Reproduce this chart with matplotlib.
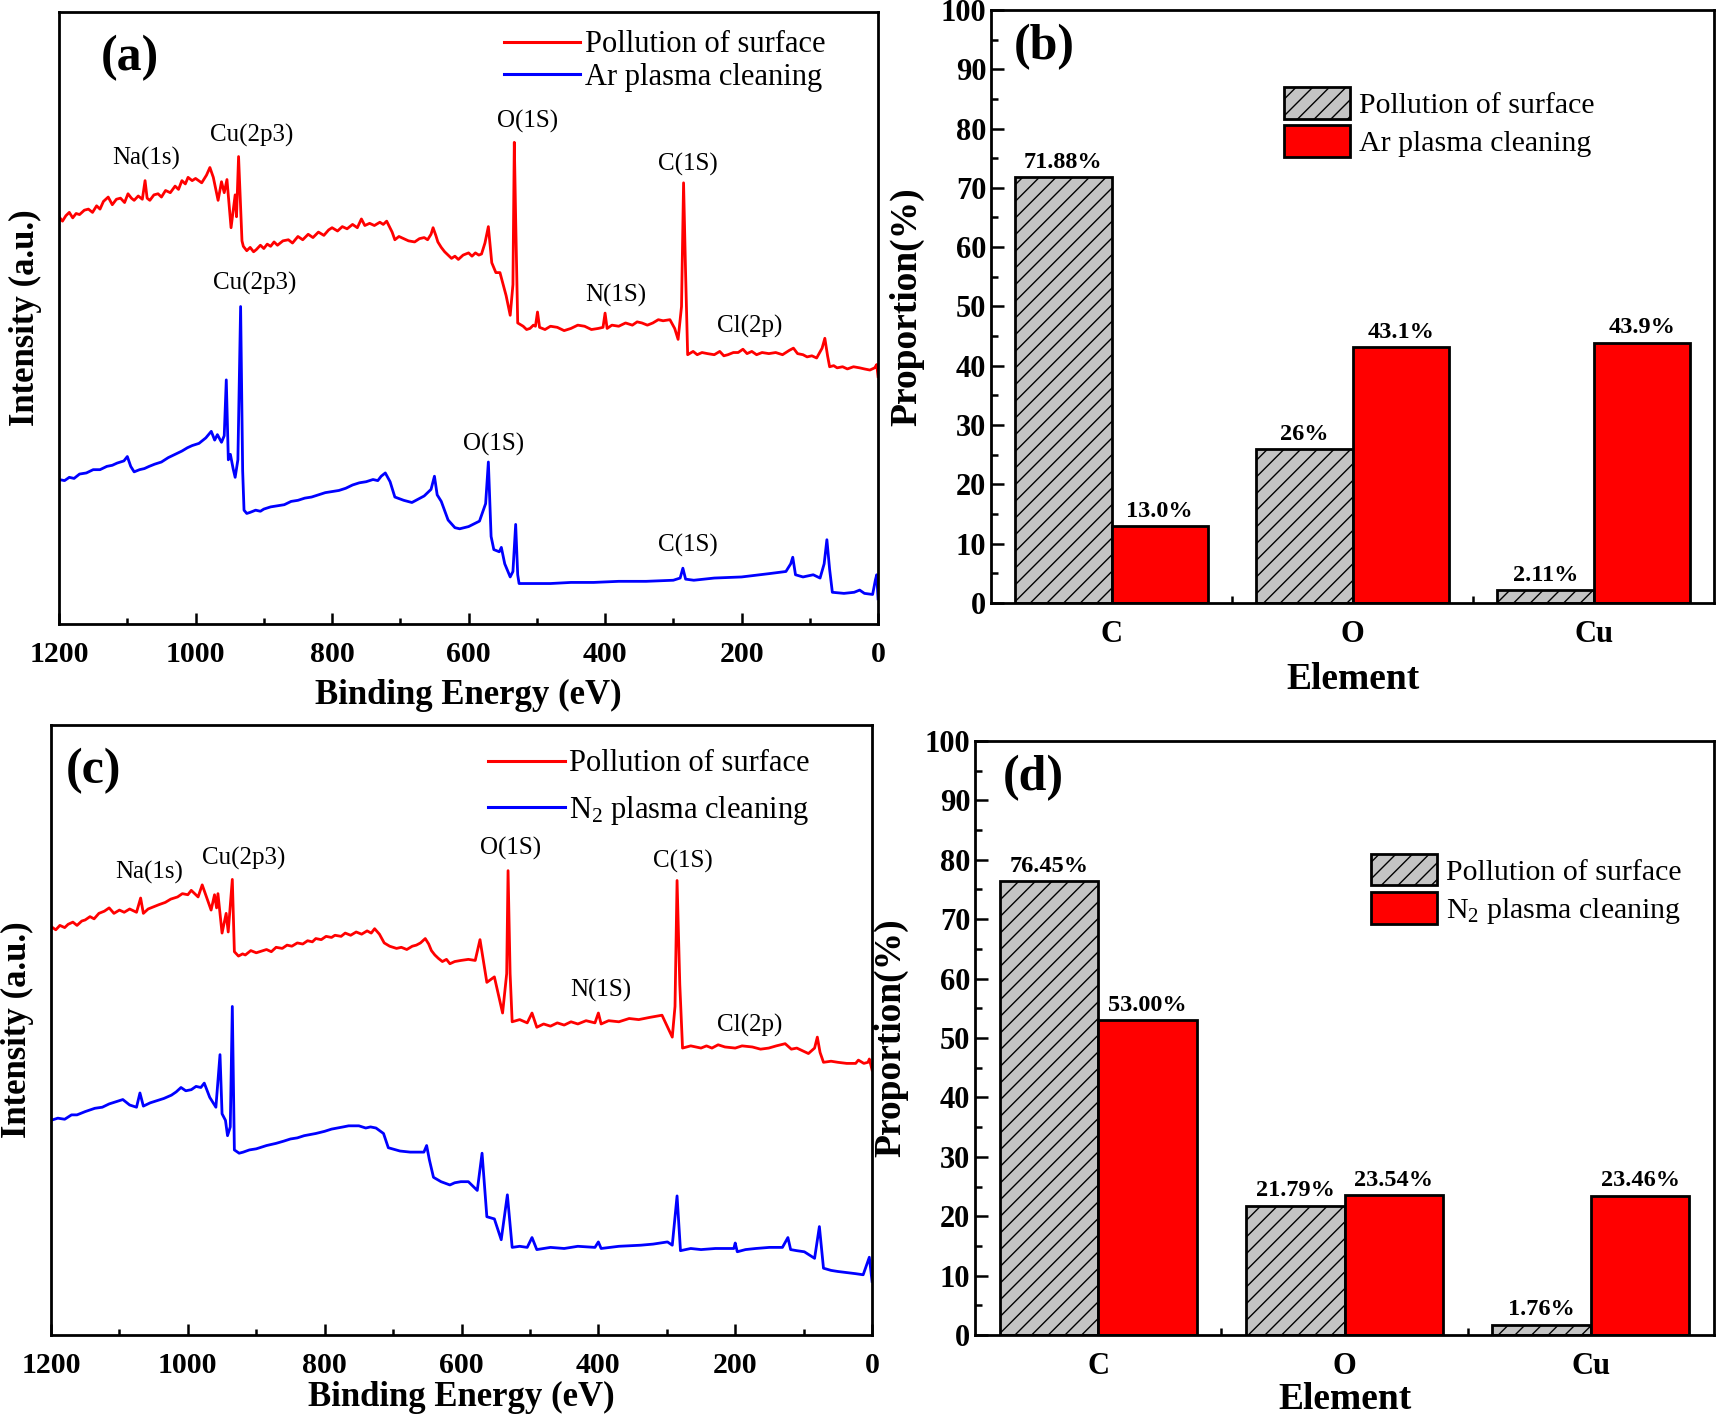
import matplotlib
matplotlib.use('Agg')
import matplotlib.pyplot as plt
from matplotlib.ticker import MultipleLocator, FixedLocator
from matplotlib.lines import Line2D

plt.rcParams['font.family'] = ['Liberation Serif', 'DejaVu Serif']
plt.rcParams['mathtext.default'] = 'regular'
plt.rcParams['hatch.linewidth'] = 1.0

# ---------------- spectra data (binding energy eV, intensity a.u.) ----------------
a_red_E = [1200, 1195, 1190, 1185, 1180, 1175, 1170, 1163, 1157, 1151, 1145, 1140, 1135, 1128, 1122,
           1116, 1110, 1104, 1099, 1094, 1090, 1084, 1078, 1074, 1071, 1067, 1061, 1055, 1050, 1044,
           1037, 1030, 1025, 1020, 1015, 1011, 1005, 1000, 991, 984, 979, 974, 967, 962, 958, 954,
           948, 942, 940, 937, 932,
           930, 925, 920, 915, 911, 905, 900, 895, 890, 885, 880, 872, 864, 858, 850, 843, 835, 828,
           820, 812, 805, 800, 792, 785, 778, 770, 763, 757, 752, 745, 738, 730, 725, 720,
           712, 708, 702, 695, 688, 679, 672, 665, 660, 655, 652, 648, 645, 640, 635, 630, 625, 620,
           615, 608, 600, 595, 590, 585, 581, 576, 571, 566, 560, 554, 545, 539, 535, 533, 531, 528,
           520, 515, 510, 505, 502, 499, 496, 488, 480, 470, 460, 450, 440, 430, 420, 410, 403, 400,
           397, 390, 380, 370, 360, 353, 346, 338, 330, 322, 315, 305, 298, 293, 288, 285, 282,
           279, 271, 265, 258, 250, 240, 232, 226, 220, 212, 205, 198, 192, 185, 178, 170, 160, 150,
           140, 130, 124, 118, 110, 104, 97, 90, 82, 78, 74, 71, 65, 60, 52, 45, 36, 27, 20, 12,
           5, 2, 0]
a_red_I = [372, 368, 373, 376, 371, 375, 374, 378, 379, 376, 382, 379, 386, 390, 383,
           388, 389, 385, 393, 389, 387, 391, 388, 405, 389, 387, 392, 393, 390, 396,
           394, 400, 397, 405, 402, 408, 405, 407, 403, 410, 417, 408, 387, 404, 394, 406,
           362, 392, 372, 427, 350,
           345, 341, 344, 340, 342, 346, 343, 347, 345, 349, 346, 350, 351, 348, 354, 351, 356, 353,
           358, 355, 360, 362, 359, 363, 361, 365, 362, 370, 364, 366, 364, 367, 365, 368,
           358, 351, 354, 352, 350, 349, 352, 353, 351, 356, 362, 355, 349, 344, 340, 337, 334, 336,
           333, 337, 339, 336, 339, 337, 338, 348, 363, 330, 321, 321, 300, 282, 310, 440, 370, 275,
           272, 269, 270, 273, 272, 285, 271, 269, 272, 271, 268, 270, 273, 272, 269, 270, 271, 284,
           270, 273, 272, 275, 273, 276, 275, 273, 275, 278, 277, 278, 270, 260, 290, 403, 320,
           246, 249, 246, 248, 247, 246, 249, 245, 246, 248, 248, 251, 247, 249, 246, 248, 247, 248,
           246, 250, 252, 247, 246, 244, 245, 243, 252, 261, 245, 235, 236, 234, 235, 233, 235, 234, 233, 232,
           234, 237, 226]

a_blue_E = [1200, 1192, 1185, 1178, 1170, 1160, 1150, 1140, 1130, 1122, 1115, 1105, 1100, 1095, 1090,
            1082, 1075, 1068, 1060, 1050, 1040, 1030, 1020, 1012, 1005, 995, 985, 977, 972, 968,
            962, 958, 955, 952, 949, 945, 942, 938, 934, 931,
            929, 925, 920, 912, 905, 900, 890, 880, 870, 860, 850, 840, 830, 820, 810, 800, 790, 780,
            770, 760, 750, 740, 733, 728, 722, 715, 708, 695, 683, 665, 655, 650, 646,
            640, 630, 620, 613, 600, 584, 575, 571, 567, 563, 555, 552, 547, 539, 535, 531, 528, 526,
            510, 480, 450, 417, 380, 340, 300, 290, 286, 282, 270, 240, 200, 160, 135, 128, 125, 121,
            110, 95, 85, 79, 75, 71, 67, 50, 35, 27, 20, 8, 4, 2, 0]
a_blue_I = [132, 131, 134, 133, 137, 138, 141, 141, 144, 145, 147, 149, 153, 144, 139,
            141, 142, 144, 146, 148, 152, 155, 158, 161, 163, 165, 170, 176, 168, 173,
            166, 172, 223, 150, 155, 142, 134, 150, 290, 140,
            104, 101, 102, 104, 103, 105, 107, 108, 109, 112, 113, 115, 116, 118, 120, 121, 122, 124,
            127, 129, 130, 132, 131, 135, 138, 130, 116, 113, 111, 117, 123, 135, 118,
            112, 95, 88, 87, 89, 94, 110, 148, 80, 68, 66, 70, 55, 43, 48, 91, 45, 37,
            37, 37, 38, 38, 39, 39, 40, 42, 51, 41, 40, 42, 43, 46, 48, 55, 61, 45,
            43, 45, 42, 55, 77, 50, 29, 28, 29, 31, 28, 27, 40, 45, 23]

c_red_E = [1200, 1193, 1187, 1180, 1175, 1168, 1162, 1155, 1150, 1143, 1137, 1130, 1122, 1115, 1108,
           1100, 1093, 1085, 1075, 1069, 1065, 1058, 1050, 1042, 1033, 1025, 1015, 1008, 1000, 995,
           985, 979, 966, 961, 958, 956, 950, 944, 941, 935,
           932, 926, 920, 916, 908, 900, 895, 885, 878, 871, 862, 855, 848, 840, 832, 825, 818, 813,
           805, 798, 790, 785, 776, 770, 762, 754, 746, 738, 732, 727, 720, 713, 705, 695, 688, 680,
           672, 666, 660, 653, 648, 644, 639, 634, 628, 622, 617, 610, 601,
           590, 580, 573, 563, 552, 540, 534, 532, 529, 526, 515, 504,
           497, 490, 480, 470, 460, 450, 440, 430, 418, 405, 400, 396, 385, 370, 355, 341, 325, 307,
           292, 288, 285, 281, 277, 265, 250, 242, 234, 225, 215, 200,
           190, 175, 163, 151, 140, 127, 118, 110, 93, 84, 80, 76, 71, 60, 50, 37, 24, 20, 12, 6, 4, 0]
c_red_I = [373, 370, 374, 372, 375, 377, 374, 378, 379, 382, 380, 385, 387, 390, 385,
           388, 386, 389, 386, 399, 385, 389, 391, 393, 395, 398, 400, 403, 402, 406,
           400, 411, 388, 402, 390, 403, 367, 385, 368, 416,
           350, 346, 348, 347, 351, 349, 350, 352, 350, 354, 353, 356, 355, 358, 357, 360, 359, 362,
           361, 364, 363, 365, 364, 367, 365, 368, 366, 369, 367, 371, 366, 358, 355, 353, 354, 352,
           355, 356, 358, 362, 357, 351, 347, 344, 341, 343, 339, 341, 342,
           343, 342, 361, 322, 327, 294, 330, 424, 330, 286, 288, 285,
           294, 281, 284, 282, 285, 283, 286, 284, 287, 285, 294, 284, 287, 286, 289, 288, 290, 292,
           272, 300, 415, 320, 262, 264, 262, 264, 262, 265, 263, 262,
           264, 263, 261, 262, 264, 266, 261, 262, 257, 262, 272, 258, 249, 250, 249, 248, 248, 251, 248, 249, 252, 242]

c_blue_E = [1200, 1190, 1180, 1170, 1162, 1150, 1136, 1125, 1115, 1105, 1095, 1085, 1075, 1070, 1065,
            1055, 1045, 1035, 1024, 1017, 1010, 1003, 995, 988, 981, 976, 968,
            959, 953, 950, 945, 942, 938, 935,
            932, 925, 919, 910, 900, 895, 885, 871, 860, 850, 840, 830, 813, 800, 790, 773, 765, 750,
            740, 733, 725, 714, 707,
            690, 675, 655, 651, 647, 641, 630, 617, 610, 601, 590, 577, 570, 563, 552, 542, 533, 526,
            515, 504, 497, 490, 470, 450, 430, 405, 400, 396, 370, 338, 320, 299, 292, 285, 280,
            265, 250, 229, 202, 200, 197, 185, 170, 150, 131, 123, 119, 110, 99, 84, 77, 71,
            60, 50, 37, 24, 13, 4, 0]
c_blue_I = [196, 198, 197, 201, 201, 204, 207, 208, 211, 213, 215, 210, 208, 221, 209,
            212, 214, 216, 219, 222, 226, 223, 224, 227, 226, 230, 217,
            208, 256, 202, 196, 182, 190, 300,
            169, 166, 167, 169, 170, 171, 173, 175, 177, 179, 180, 182, 184, 186, 188, 190, 191, 191,
            189, 190, 189, 184, 171,
            168, 167, 167, 173, 160, 144, 140, 137, 139, 140, 140, 132, 166, 108, 106, 87, 128, 80,
            81, 80, 89, 78, 80, 79, 81, 80, 85, 79, 81, 82, 83, 85, 82, 127, 77,
            79, 78, 79, 79, 84, 76, 78, 79, 80, 80, 89, 78, 77, 76, 70, 99, 61,
            59, 58, 57, 56, 55, 71, 49]

# peak labels: (text, energy, intensity)
a_peaks = [('Na(1s)', 1073, 425), ('Cu(2p3)', 918, 446), ('O(1S)', 513, 459), ('C(1S)', 279, 420),
           ('N(1S)', 385, 300), ('Cl(2p)', 188, 272), ('Cu(2p3)', 914, 311), ('O(1S)', 563, 164),
           ('C(1S)', 279, 72)]
c_peaks = [('Na(1s)', 1057, 422), ('Cu(2p3)', 918, 435), ('O(1S)', 529, 444), ('C(1S)', 277, 432),
           ('N(1S)', 396, 315), ('Cl(2p)', 179, 283)]

# ---------------- composition data ----------------
elements = ['C', 'O', 'Cu']
b_pollution = [71.88, 26, 2.11]
b_ar = [13.0, 43.1, 43.9]
b_pollution_txt = ['71.88%', '26%', '2.11%']
b_ar_txt = ['13.0%', '43.1%', '43.9%']
d_pollution = [76.45, 21.79, 1.76]
d_n2 = [53.00, 23.54, 23.46]
d_pollution_txt = ['76.45%', '21.79%', '1.76%']
d_n2_txt = ['53.00%', '23.54%', '23.46%']

fig = plt.figure(figsize=(17.17, 14.16), dpi=100)
ax_a = fig.add_axes([0.0344, 0.5593, 0.477, 0.4322])
ax_b = fig.add_axes([0.5772, 0.5742, 0.4211, 0.4188])
ax_c = fig.add_axes([0.0297, 0.0572, 0.4782, 0.4308])
ax_d = fig.add_axes([0.5679, 0.0572, 0.4304, 0.4195])


def spectrum(ax, rE, rI, bE, bI, peaks, blue_label, ytop, tag, tagx, legend_anchor, lspace,
             tickpad, xlpad):
    ax.plot(rE, rI, color='#ff0000', lw=2.0)
    ax.plot(bE, bI, color='#0000ff', lw=2.0)
    ax.set_xlim(1200, 0)
    ax.set_ylim(0, ytop)
    ax.xaxis.set_major_locator(MultipleLocator(200))
    ax.xaxis.set_minor_locator(MultipleLocator(100))
    ax.tick_params(axis='x', which='major', direction='in', length=8, width=1.8,
                   labelsize=21.5, pad=tickpad, top=False)
    ax.tick_params(axis='x', which='minor', direction='in', length=4, width=1.8, top=False)
    ax.set_yticks([])
    for lab in ax.get_xticklabels():
        lab.set_fontweight('bold')
    for s in ax.spines.values():
        s.set_linewidth(2)
    ax.set_xlabel('Binding Energy (eV)', fontsize=25, fontweight='bold', labelpad=xlpad)
    ax.set_ylabel('Intensity (a.u.)', fontsize=25, fontweight='bold', labelpad=12)
    for txt, e, i in peaks:
        ax.text(e, i, txt, fontsize=18, ha='center', va='center')
    ax.text(tagx, 0.925, tag, transform=ax.transAxes,
            fontsize=36, fontweight='bold', ha='center', va='center')
    handles = [Line2D([], [], color='#ff0000', lw=2.2), Line2D([], [], color='#0000ff', lw=2.2)]
    ax.legend(handles, ['Pollution of surface', blue_label], loc='upper right',
              bbox_to_anchor=legend_anchor, frameon=False, fontsize=22, handlelength=2.5,
              handletextpad=0.15, labelspacing=lspace, borderpad=0.2)


spectrum(ax_a, a_red_E, a_red_I, a_blue_E, a_blue_I, a_peaks, 'Ar plasma cleaning', 559, '(a)',
         0.086, (0.962, 1.005), 0.12, 12, 8)
spectrum(ax_c, c_red_E, c_red_I, c_blue_E, c_blue_I, c_peaks, 'N$_2$ plasma cleaning', 557, '(c)',
         0.052, (0.95, 0.995), 0.5, 12, 2)


def bars(ax, pol, cln, pol_txt, cln_txt, cln_label, tag, tagpos, leg_anchor, xlpad):
    x = list(range(len(elements)))
    w = 0.4
    b1 = ax.bar([i - w / 2 for i in x], pol, w, color='#c4c4c4', edgecolor='black',
                linewidth=2, hatch='//', label='Pollution of surface')
    b2 = ax.bar([i + w / 2 for i in x], cln, w, color='#ff0000', edgecolor='black',
                linewidth=2, label=cln_label)
    for rect, t in zip(b1, pol_txt):
        ax.annotate(t, (rect.get_x() + rect.get_width() / 2, rect.get_height()),
                    xytext=(0, 3), textcoords='offset points', ha='center', va='bottom',
                    fontsize=17.5, fontweight='bold')
    for rect, t in zip(b2, cln_txt):
        ax.annotate(t, (rect.get_x() + rect.get_width() / 2, rect.get_height()),
                    xytext=(0, 3), textcoords='offset points', ha='center', va='bottom',
                    fontsize=17.5, fontweight='bold')
    ax.set_xlim(-0.5, 2.5)
    ax.set_ylim(0, 100)
    ax.set_xticks(x)
    ax.set_xticklabels(elements)
    ax.xaxis.set_minor_locator(FixedLocator([0.5, 1.5]))
    ax.yaxis.set_major_locator(MultipleLocator(10))
    ax.yaxis.set_minor_locator(MultipleLocator(5))
    ax.tick_params(axis='y', which='major', direction='in', length=9, width=1.8, labelsize=22,
                   right=False)
    ax.tick_params(axis='y', which='minor', direction='in', length=5, width=1.8, right=False)
    ax.tick_params(axis='x', which='major', length=0, labelsize=22, pad=12)
    ax.tick_params(axis='x', which='minor', direction='in', length=5, width=1.8)
    for lab in ax.get_xticklabels() + ax.get_yticklabels():
        lab.set_fontweight('bold')
    for s in ax.spines.values():
        s.set_linewidth(2)
    ax.set_xlabel('Element', fontsize=27, fontweight='bold', labelpad=xlpad)
    ax.set_ylabel('Proportion(%)', fontsize=27, fontweight='bold', labelpad=12)
    ax.text(tagpos[0], tagpos[1], tag, transform=ax.transAxes, fontsize=36,
            fontweight='bold', ha='center', va='center')
    ax.legend(loc='upper left', bbox_to_anchor=leg_anchor, frameon=False, fontsize=21.5,
              handlelength=2.2, handleheight=1.25, handletextpad=0.3, labelspacing=0.22,
              borderpad=0, borderaxespad=0)


bars(ax_b, b_pollution, b_ar, b_pollution_txt, b_ar_txt, 'Ar plasma cleaning', '(b)',
     (0.073, 0.937), (0.405, 0.87), 10)
bars(ax_d, d_pollution, d_n2, d_pollution_txt, d_n2_txt, 'N$_2$ plasma cleaning', '(d)',
     (0.079, 0.937), (0.536, 0.81), 1)

fig.savefig('out.png', dpi=100)
